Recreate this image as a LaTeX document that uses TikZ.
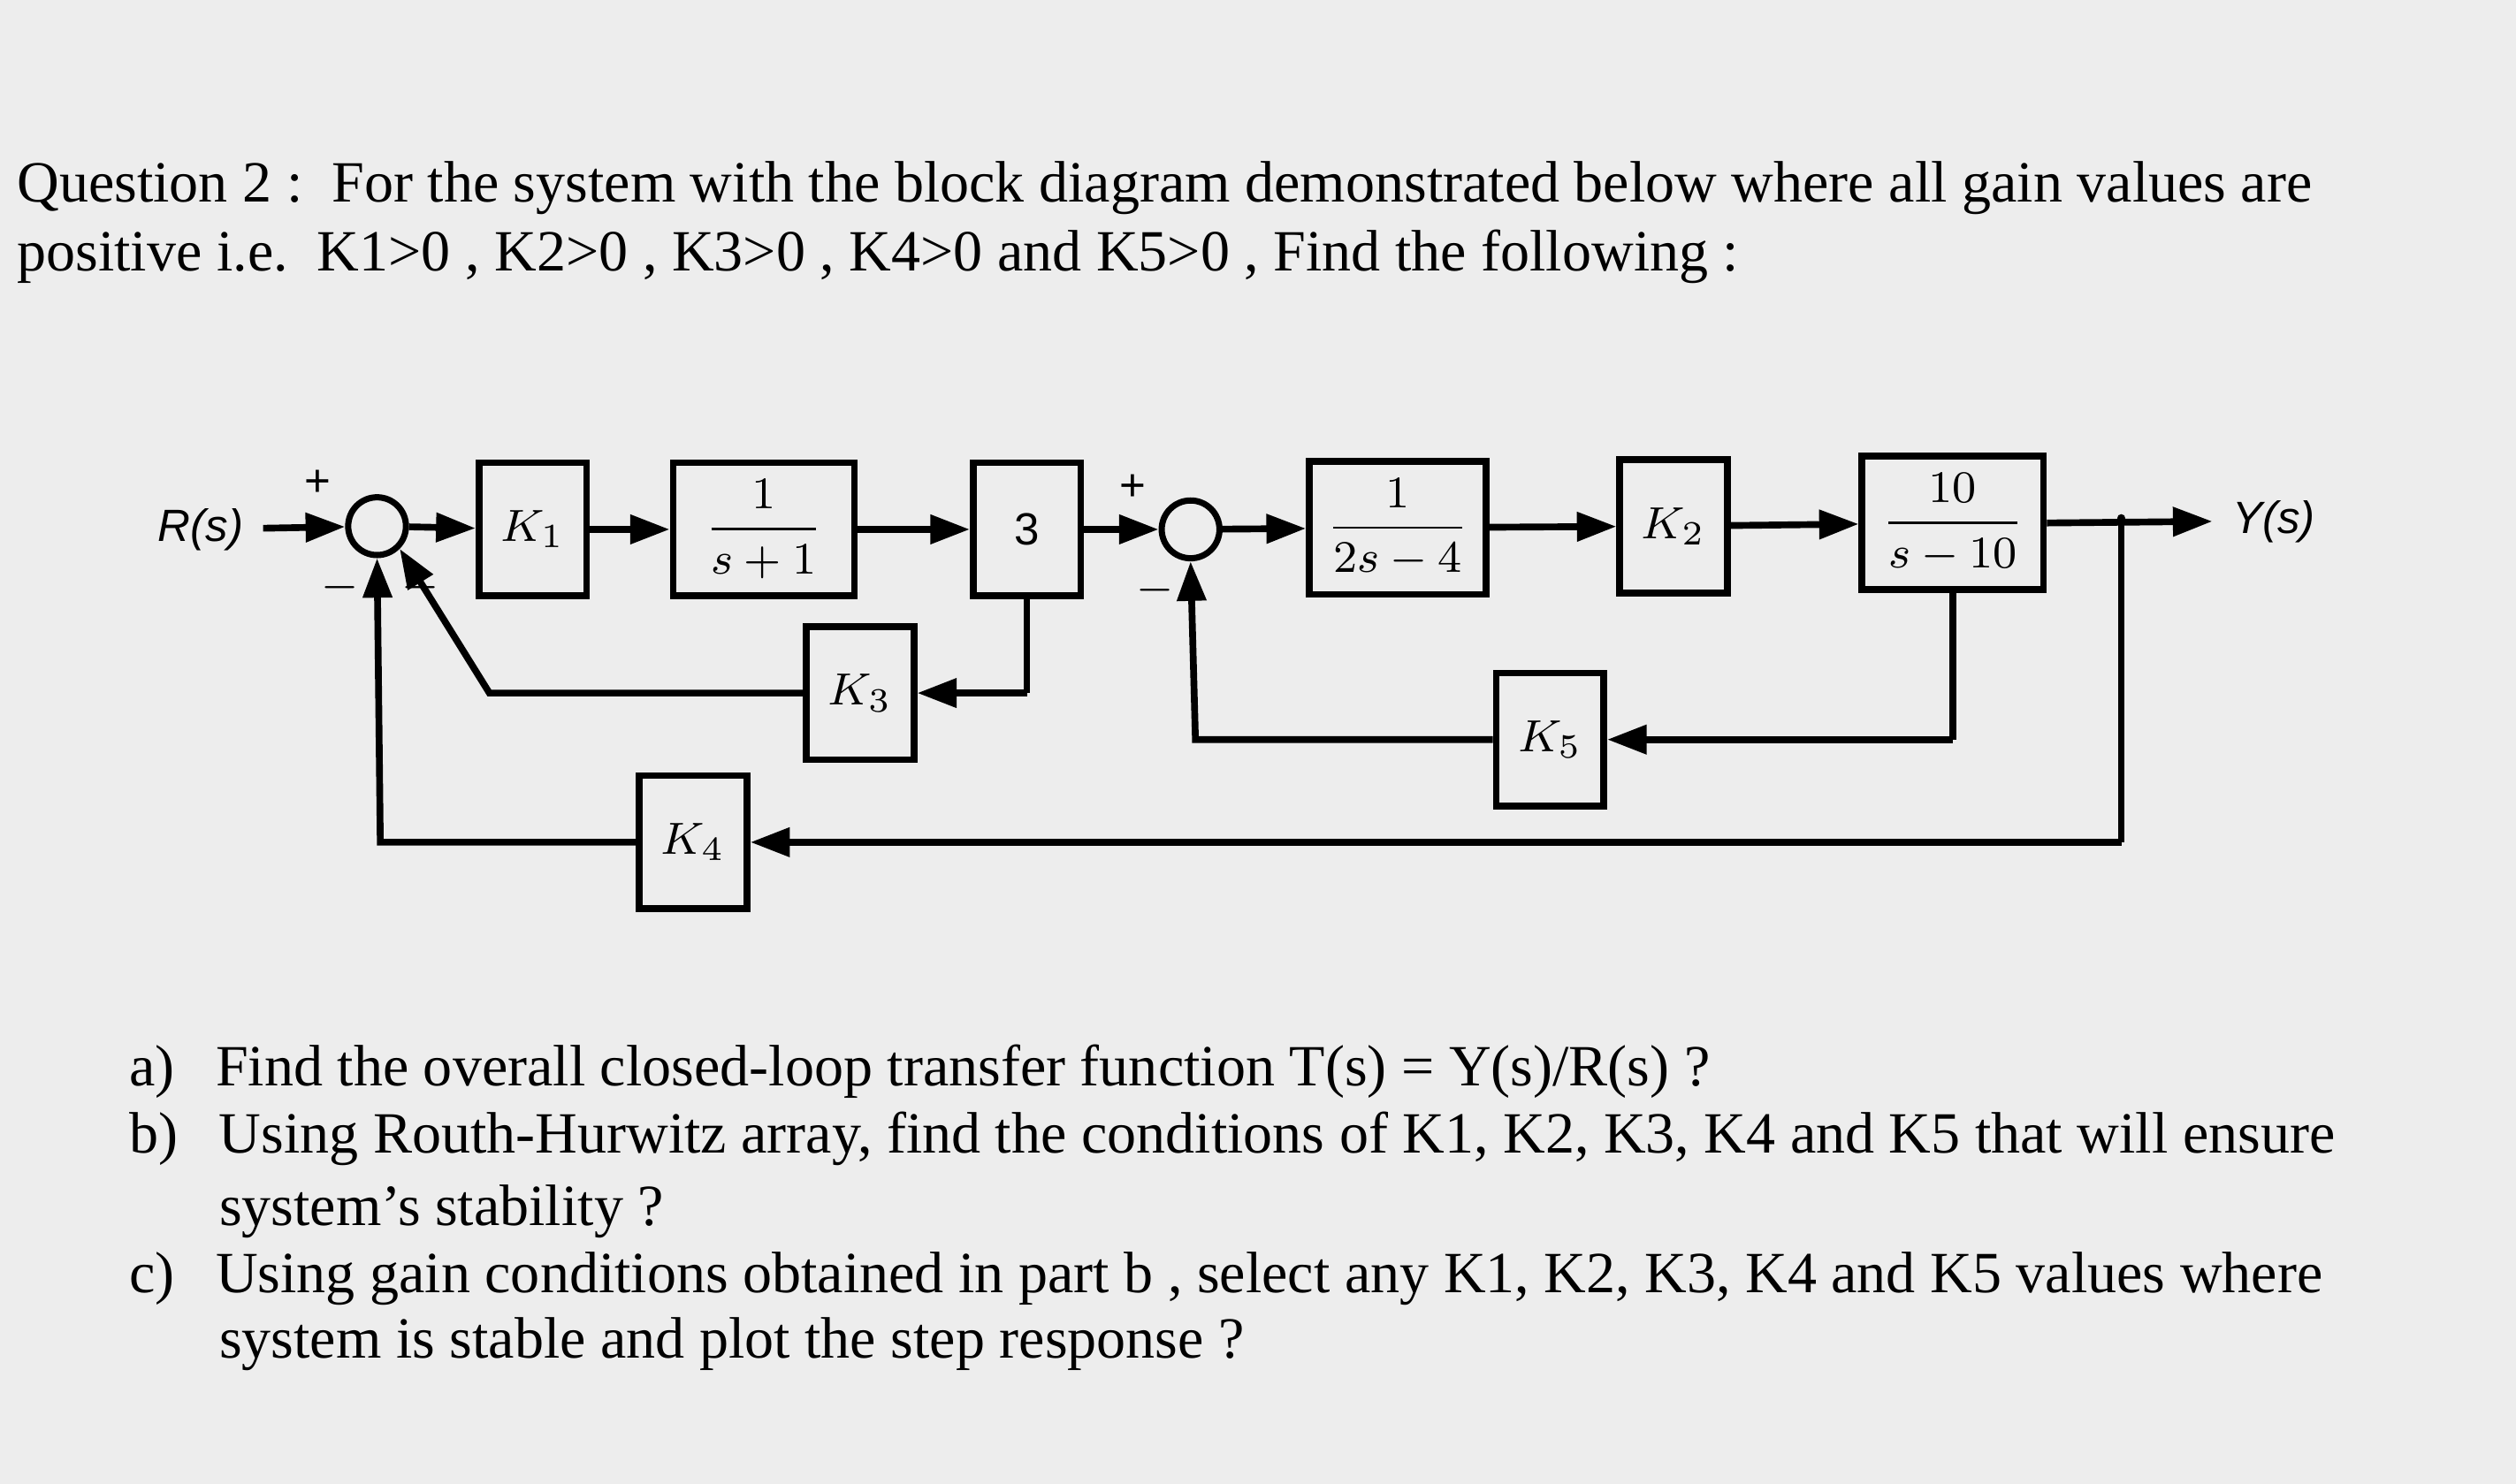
\documentclass[tikz,border=0pt]{standalone}
\usepackage{amsmath}
\usepackage{fontspec}
\setmainfont{Liberation Serif}
\newfontfamily\dfont{Liberation Sans}
\usetikzlibrary{arrows.meta}
\begin{document}
\begin{tikzpicture}[x=0.01cm,y=-0.01cm,
  blk/.style={draw,line width=1.2pt,minimum width=#1,minimum height=0.83cm,inner sep=0pt,font=\dfont\footnotesize},
  blk/.default=0.67cm,
  sj/.style={draw,circle,line width=1.1pt,minimum size=0.36cm,inner sep=0pt},
  ln/.style={line width=1.2pt},
  ar/.style={line width=1.2pt,-{Triangle[length=7pt,width=5pt]}},
  txt/.style={anchor=west,font=\fontsize{10.35}{12}\selectfont,inner sep=0pt},
  lbl/.style={font=\dfont\footnotesize\itshape}]
\fill[gray!14] (0,0) rectangle (1568,925);
\useasboundingbox (0,0) rectangle (1568,925);
\node[txt] (t1) at (10,117) {Question 2 :\ \ For the system with the block diagram demonstrated below where all gain values are};
\node[txt] (t2) at (10,160) {positive i.e.\ \ K1>0 , K2>0 , K3>0 , K4>0 and K5>0 , Find the following :};

\node[lbl] (R) at (125,330) {R(s)};
\node[sj] (s1) at (235,328) {};
\node[blk] (k1) at (332,330) {$K_1$};
\node[blk=1.13cm] (g1) at (476,330) {$\dfrac{1}{s+1}$};
\node[blk] (b3) at (640,330) {3};
\node[sj] (s2) at (742,330) {};
\node[blk=1.1cm] (g2) at (871,329) {$\dfrac{1}{2s-4}$};
\node[blk] (k2) at (1043,328) {$K_2$};
\node[blk=1.13cm] (g3) at (1217,326) {$\dfrac{10}{s-10}$};
\node[lbl] (Y) at (1417,325) {Y(s)};
\coordinate (bp) at (1322,323);
\node[blk] (k3) at (536,432) {$K_3$};
\node[blk] (k5) at (966,461) {$K_5$};
\node[blk] (k4) at (432,525) {$K_4$};

\draw[ar] (R) -- (s1);
\draw[ar] (s1) -- (k1);
\draw[ar] (k1) -- (g1);
\draw[ar] (g1) -- (b3);
\draw[ar] (b3) -- (s2);
\draw[ar] (s2) -- (g2);
\draw[ar] (g2) -- (k2);
\draw[ar] (k2) -- (g3);
\draw[ar] (g3.east) -- (Y.west);
\draw[ln] (bp) -- (1322,525);
\draw[ar] (1322,525) -- (k4);
\draw[ar] (k4) -- (237,525) -- (s1.south);
\draw[ln] (g3.south) -- (1217,461);
\draw[ar] (1217,461) -- (k5);
\draw[ar] (k5) -- (745,461) -- (s2.south);
\draw[ln] (b3.south) -- (640,432);
\draw[ar] (640,432) -- (k3);
\draw[ar] (k3) -- (305,432) -- (s1.south east);
\fill (bp) circle (2.5);

\node[font=\dfont\footnotesize] (p1) at (198,301) {+};
\node[font=\dfont\footnotesize] (m1) at (212,366) {$-$};
\node[font=\dfont\footnotesize] (m1b) at (262,366) {$-$};
\node[font=\dfont\footnotesize] (p2) at (706,304) {+};
\node[font=\dfont\footnotesize] (m2) at (720,368) {$-$};

\node[txt] (a) at (80,668) {a)\hspace{0.45em}\ Find the overall closed-loop transfer function T(s) = Y(s)/R(s) ?};
\node[txt] (b) at (80,710) {b)\hspace{0.45em}\ Using Routh-Hurwitz array, find the conditions of K1, K2, K3, K4 and K5 that will ensure};
\node[txt] (b2) at (136,755) {system's stability ?};
\node[txt] (c) at (80,797) {c)\hspace{0.45em}\ Using gain conditions obtained in part b , select any K1, K2, K3, K4 and K5 values where};
\node[txt] (c2) at (136,838) {system is stable and plot the step response ?};
\end{tikzpicture}
\end{document}
